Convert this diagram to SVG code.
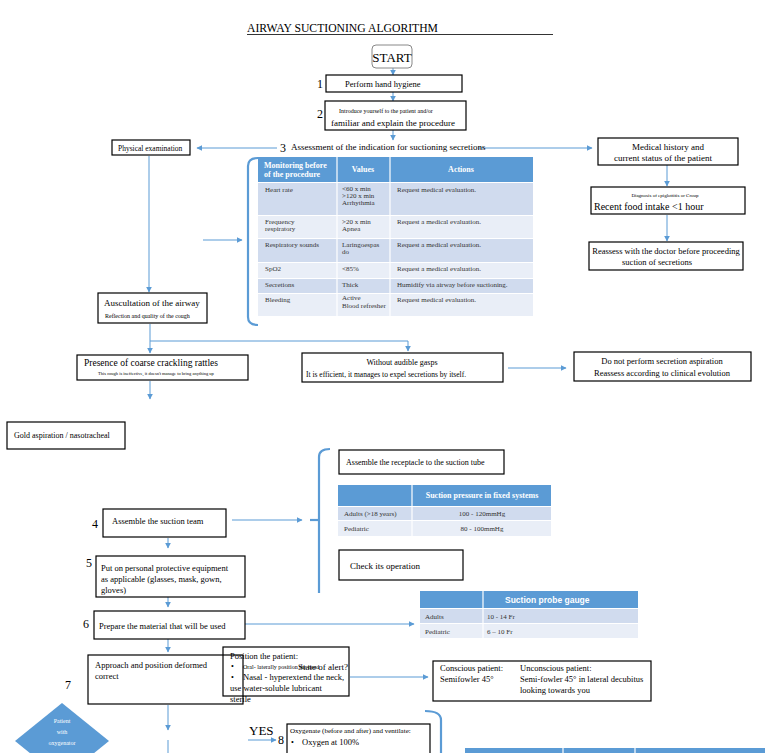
<svg xmlns="http://www.w3.org/2000/svg" width="768" height="753" viewBox="0 0 768 753">
<defs>
<marker id="ah" viewBox="0 0 10 10" refX="9" refY="5" markerWidth="6" markerHeight="6" orient="auto" markerUnits="userSpaceOnUse"><path d="M0,0 L10,5 L0,10 z" fill="#5b9bd5"/></marker>
<style>
text{font-family:"Liberation Serif","Times New Roman",serif;fill:#000}
.box{fill:#fff;stroke:#000;stroke-width:1.2}
.ln{fill:none;stroke:#5b9bd5;stroke-width:1}
.br{fill:none;stroke:#5b9bd5;stroke-width:2.2}
.hd{fill:#5b9bd5}
.rd{fill:#d0dbee}
.rl{fill:#e9eef7}
.th{fill:#fff;font-weight:bold;font-size:8px}
.td{font-size:7px;fill:#333}
.n{font-size:12px}
.s{font-size:9px}
.wt{fill:#fff}
.sans{font-family:"Liberation Sans",Arial,sans-serif}
</style>
</defs>
<rect width="768" height="753" fill="#fff"/>
<g id="title">
<text x="247" y="32" font-size="13" textLength="191" lengthAdjust="spacingAndGlyphs">AIRWAY SUCTIONING ALGORITHM</text>
<line x1="247" y1="34.5" x2="553" y2="34.5" stroke="#000" stroke-width="0.8"/>
</g>
<g id="connectors">
<line class="ln" x1="393" y1="68" x2="393" y2="75" marker-end="url(#ah)"/>
<line class="ln" x1="393" y1="92" x2="393" y2="101" marker-end="url(#ah)"/>
<line class="ln" x1="393" y1="130" x2="393" y2="140" marker-end="url(#ah)"/>
<line class="ln" x1="277" y1="148" x2="197" y2="148" marker-end="url(#ah)"/>
<line class="ln" x1="478" y1="148" x2="592" y2="148" marker-end="url(#ah)"/>
<line class="ln" x1="149" y1="156" x2="149" y2="292" marker-end="url(#ah)"/>
<line class="ln" x1="203" y1="240" x2="242" y2="240" marker-end="url(#ah)"/>
<line class="ln" x1="667" y1="165" x2="667" y2="186" marker-end="url(#ah)"/>
<line class="ln" x1="667" y1="215" x2="667" y2="241" marker-end="url(#ah)"/>
<line class="ln" x1="150" y1="324" x2="150" y2="353" marker-end="url(#ah)"/>
<polyline class="ln" points="150,341 408,341 408,351" marker-end="url(#ah)"/>
<line class="ln" x1="508" y1="368" x2="566" y2="368" marker-end="url(#ah)"/>
<line class="ln" x1="150" y1="381" x2="150" y2="399" marker-end="url(#ah)"/>
<line class="ln" x1="232" y1="520" x2="302" y2="520" marker-end="url(#ah)"/>
<line class="ln" x1="168" y1="538" x2="168" y2="548" marker-end="url(#ah)"/>
<line class="ln" x1="168" y1="597" x2="168" y2="607" marker-end="url(#ah)"/>
<line class="ln" x1="245" y1="624" x2="414" y2="624" marker-end="url(#ah)"/>
<line class="ln" x1="168" y1="639" x2="168" y2="652" marker-end="url(#ah)"/>
<line class="ln" x1="350" y1="677" x2="428" y2="677" marker-end="url(#ah)"/>
<line class="ln" x1="168" y1="705" x2="168" y2="730" marker-end="url(#ah)"/>
<line class="ln" x1="168" y1="740" x2="168" y2="753"/>
<line class="ln" x1="248" y1="740" x2="276" y2="740" marker-end="url(#ah)"/>
<path class="br" d="M258,158 Q248,158 248,166 L248,317 Q248,325 258,325"/>
<path class="br" d="M330,449 Q319,449 319,457 L319,593"/>
<line class="br" x1="310" y1="520" x2="319" y2="520"/>
<path class="br" d="M425,711 Q441,711 441,720 L441,753"/>
</g>
<g id="start">
<rect x="372" y="45" width="40" height="23" rx="4" fill="#fff" stroke="#888" stroke-width="1"/>
<text x="392" y="62" font-size="13" text-anchor="middle">START</text>
</g>
<g id="step1">
<text class="n" x="317" y="88">1</text>
<rect class="box" x="326" y="75" width="136" height="17"/>
<text x="345" y="87" font-size="8.5">Perform hand hygiene</text>
</g>
<g id="step2">
<text class="n" x="317" y="118">2</text>
<rect class="box" x="325" y="101" width="141" height="29"/>
<text x="339" y="113" font-size="6">Introduce yourself to the patient and/or</text>
<text x="331" y="126" font-size="9">familiar and explain the procedure</text>
</g>
<g id="step3">
<text class="n" x="280" y="152">3</text>
<text class="s" x="291" y="150">Assessment of the indication for suctioning secretions</text>
</g>
<g id="physical">
<rect class="box" x="112" y="140" width="78" height="15"/>
<text x="118" y="151" font-size="7.5">Physical examination</text>
</g>
<g id="monitoring-table">
<rect class="hd" x="258" y="157" width="275" height="25"/>
<rect class="rd" x="258" y="183" width="275" height="32"/>
<rect class="rl" x="258" y="216" width="275" height="22"/>
<rect class="rd" x="258" y="239" width="275" height="23"/>
<rect class="rl" x="258" y="263" width="275" height="15"/>
<rect class="rd" x="258" y="279" width="275" height="14"/>
<rect class="rl" x="258" y="294" width="275" height="22"/>
<line x1="337" y1="157" x2="337" y2="316" stroke="#fff" stroke-width="1.2"/>
<line x1="390" y1="157" x2="390" y2="316" stroke="#fff" stroke-width="1.2"/>
<text class="th" x="264" y="168" font-size="8.5">Monitoring before</text>
<text class="th" x="264" y="177" font-size="8.5">of the procedure</text>
<text class="th" x="363" y="172" text-anchor="middle">Values</text>
<text class="th" x="461" y="172" text-anchor="middle">Actions</text>
<text class="td" x="265" y="192">Heart rate</text>
<text class="td" x="342" y="191">&lt;60 x min</text>
<text class="td" x="342" y="198">&gt;120 x min</text>
<text class="td" x="342" y="205">Arrhythmia</text>
<text class="td" x="397" y="192">Request medical evaluation.</text>
<text class="td" x="265" y="224">Frequency</text>
<text class="td" x="265" y="231">respiratory</text>
<text class="td" x="342" y="224">&gt;20 x min</text>
<text class="td" x="342" y="231">Apnea</text>
<text class="td" x="397" y="224">Request a medical evaluation.</text>
<text class="td" x="265" y="247">Respiratory sounds</text>
<text class="td" x="342" y="247">Laringoespas</text>
<text class="td" x="342" y="254">do</text>
<text class="td" x="397" y="247">Request a medical evaluation.</text>
<text class="td" x="265" y="271">SpO2</text>
<text class="td" x="342" y="271">&lt;85%</text>
<text class="td" x="397" y="271">Request a medical evaluation.</text>
<text class="td" x="265" y="287">Secretions</text>
<text class="td" x="342" y="287">Thick</text>
<text class="td" x="397" y="287">Humidify via airway before suctioning.</text>
<text class="td" x="265" y="302">Bleeding</text>
<text class="td" x="342" y="300">Active</text>
<text class="td" x="342" y="307.5" font-size="5.5">Blood refresher</text>
<text class="td" x="397" y="302">Request medical evaluation.</text>
</g>
<g id="medical-history">
<rect class="box" x="598" y="138" width="140" height="27"/>
<text x="668" y="150" font-size="9" text-anchor="middle">Medical history and</text>
<text x="663" y="161" font-size="9" text-anchor="middle">current status of the patient</text>
</g>
<g id="diagnosis">
<rect class="box" x="591" y="187" width="154" height="27"/>
<text x="665" y="197" font-size="5" text-anchor="middle">Diagnosis of epiglottitis or Croup</text>
<text x="594" y="210" font-size="10">Recent food intake &lt;1 hour</text>
</g>
<g id="reassess">
<rect class="box" x="589" y="242" width="154" height="28"/>
<text x="666" y="254" font-size="8.5" text-anchor="middle">Reassess with the doctor before proceeding</text>
<text x="657" y="265" font-size="8.5" text-anchor="middle">suction of secretions</text>
</g>
<g id="auscultation">
<rect class="box" x="98" y="293" width="109" height="30"/>
<text x="104" y="306" font-size="9">Auscultation of the airway</text>
<text x="105" y="318" font-size="6">Reflection and quality of the cough</text>
</g>
<g id="presence">
<rect class="box" x="77" y="355" width="171" height="25"/>
<text x="84" y="366" font-size="9.5">Presence of coarse crackling rattles</text>
<text x="98" y="375" font-size="4.5">This cough is ineffective, it doesn't manage to bring anything up</text>
</g>
<g id="without">
<rect class="box" x="302" y="353" width="201" height="29"/>
<text x="402" y="365" font-size="8" text-anchor="middle">Without audible gasps</text>
<text x="306" y="377" font-size="7.5">It is efficient, it manages to expel secretions by itself.</text>
</g>
<g id="do-not-perform">
<rect class="box" x="574" y="352" width="177" height="29"/>
<text x="662" y="364" font-size="8.5" text-anchor="middle">Do not perform secretion aspiration</text>
<text x="662" y="376" font-size="8.5" text-anchor="middle">Reassess according to clinical evolution</text>
</g>
<g id="gold">
<rect class="box" x="7" y="422" width="118" height="27"/>
<text x="14" y="438" font-size="8">Gold aspiration / nasotracheal</text>
</g>
<g id="step4">
<text class="n" x="92" y="528">4</text>
<rect class="box" x="103" y="509" width="123" height="28"/>
<text x="112" y="524" font-size="8.5">Assemble the suction team</text>
</g>
<g id="receptacle">
<rect class="box" x="339" y="450" width="165" height="24"/>
<text x="346" y="465" font-size="8">Assemble the receptacle to the suction tube</text>
</g>
<g id="pressure-table">
<rect class="hd" x="338" y="485" width="213" height="21"/>
<rect class="rd" x="338" y="507" width="213" height="13"/>
<rect class="rl" x="338" y="521" width="213" height="15"/>
<line x1="412" y1="485" x2="412" y2="536" stroke="#fff" stroke-width="1.2"/>
<text class="th" x="482" y="498" text-anchor="middle">Suction pressure in fixed systems</text>
<text class="td" x="344" y="516" font-size="6.5">Adults (&gt;18 years)</text>
<text class="td" x="482" y="516" font-size="6.5" text-anchor="middle">100 - 120mmHg</text>
<text class="td" x="344" y="531" font-size="6.5">Pediatric</text>
<text class="td" x="482" y="531" font-size="6.5" text-anchor="middle">80 - 100mmHg</text>
</g>
<g id="check">
<rect class="box" x="339" y="550" width="124" height="30"/>
<text x="350" y="569" font-size="9">Check its operation</text>
</g>
<g id="step5">
<text class="n" x="86" y="567">5</text>
<rect class="box" x="96" y="556" width="149" height="41"/>
<text x="101" y="571" font-size="8.5">Put on personal protective equipment</text>
<text x="101" y="582" font-size="8.5">as applicable (glasses, mask, gown,</text>
<text x="101" y="593" font-size="8.5">gloves)</text>
</g>
<g id="step6">
<text class="n" x="83" y="628">6</text>
<rect class="box" x="94" y="611" width="151" height="28"/>
<text x="99" y="629" font-size="8.5">Prepare the material that will be used</text>
</g>
<g id="probe-table">
<rect class="hd" x="420" y="591" width="218" height="17"/>
<rect class="rd" x="420" y="609" width="218" height="14"/>
<rect class="rl" x="420" y="624" width="218" height="14"/>
<line x1="483" y1="591" x2="483" y2="638" stroke="#fff" stroke-width="1.2"/>
<text class="sans wt" x="505" y="603" font-size="8.5" font-weight="bold">Suction probe gauge</text>
<text class="td" x="425" y="619" font-size="6.5">Adults</text>
<text class="td" x="487" y="619" font-size="6.5">10 - 14 Fr</text>
<text class="td" x="425" y="634" font-size="6.5">Pediatric</text>
<text class="td" x="487" y="634" font-size="6.5">6 – 10 Fr</text>
</g>
<g id="step7">
<text class="n" x="65" y="689">7</text>
<rect class="box" x="88" y="655" width="155" height="49"/>
<text x="95" y="668" font-size="8.5">Approach and position deformed</text>
<text x="95" y="679" font-size="8.5">correct</text>
</g>
<g id="position">
<rect fill="none" stroke="#000" stroke-width="1.2" x="223" y="647" width="126" height="49"/>
<text x="230" y="659" font-size="8.5">Position the patient:</text>
<text x="231" y="669" font-size="8">•</text>
<text x="243" y="669" font-size="6">Oral- laterally position the head</text>
<text x="298" y="670" font-size="9">State of alert?</text>
<text x="231" y="680" font-size="8">•</text>
<text x="243" y="680" font-size="8.5">Nasal - hyperextend the neck,</text>
<text x="230" y="691" font-size="8.5">use water-soluble lubricant</text>
<text x="230" y="702" font-size="8.5">sterile</text>
</g>
<g id="consciousness">
<rect class="box" x="433" y="661" width="218" height="40"/>
<text x="440" y="671" font-size="8.5">Conscious patient:</text>
<text x="440" y="682" font-size="8.5">Semifowler 45°</text>
<text x="520" y="671" font-size="8.5">Unconscious patient:</text>
<text x="520" y="682" font-size="8.5">Semi-fowler 45° in lateral decubitus</text>
<text x="520" y="693" font-size="8.5">looking towards you</text>
</g>
<g id="oxygenator">
<polygon points="62,703 109,741 62,779 15,741" fill="#5b9bd5"/>
<text class="wt" x="62" y="723" font-size="6" text-anchor="middle">Patient</text>
<text class="wt" x="62" y="734" font-size="6" text-anchor="middle">with</text>
<text class="wt" x="62" y="745" font-size="6" text-anchor="middle">oxygenator</text>
</g>
<g id="yes-label">
<text x="249" y="735" font-size="13">YES</text>
</g>
<g id="step8">
<text class="n" x="278" y="744">8</text>
<rect class="box" x="287" y="724" width="143" height="40"/>
<text x="290" y="733" font-size="7">Oxygenate (before and after) and ventilate:</text>
<text x="291" y="745" font-size="8">•</text>
<text x="302" y="745" font-size="8.5">Oxygen at 100%</text>
</g>
<g id="bottom-table">
<rect class="hd" x="465" y="748" width="300" height="6"/>
<line x1="563" y1="748" x2="563" y2="753" stroke="#fff" stroke-width="1.2"/>
<line x1="635" y1="748" x2="635" y2="753" stroke="#fff" stroke-width="1.2"/>
</g>
</svg>
